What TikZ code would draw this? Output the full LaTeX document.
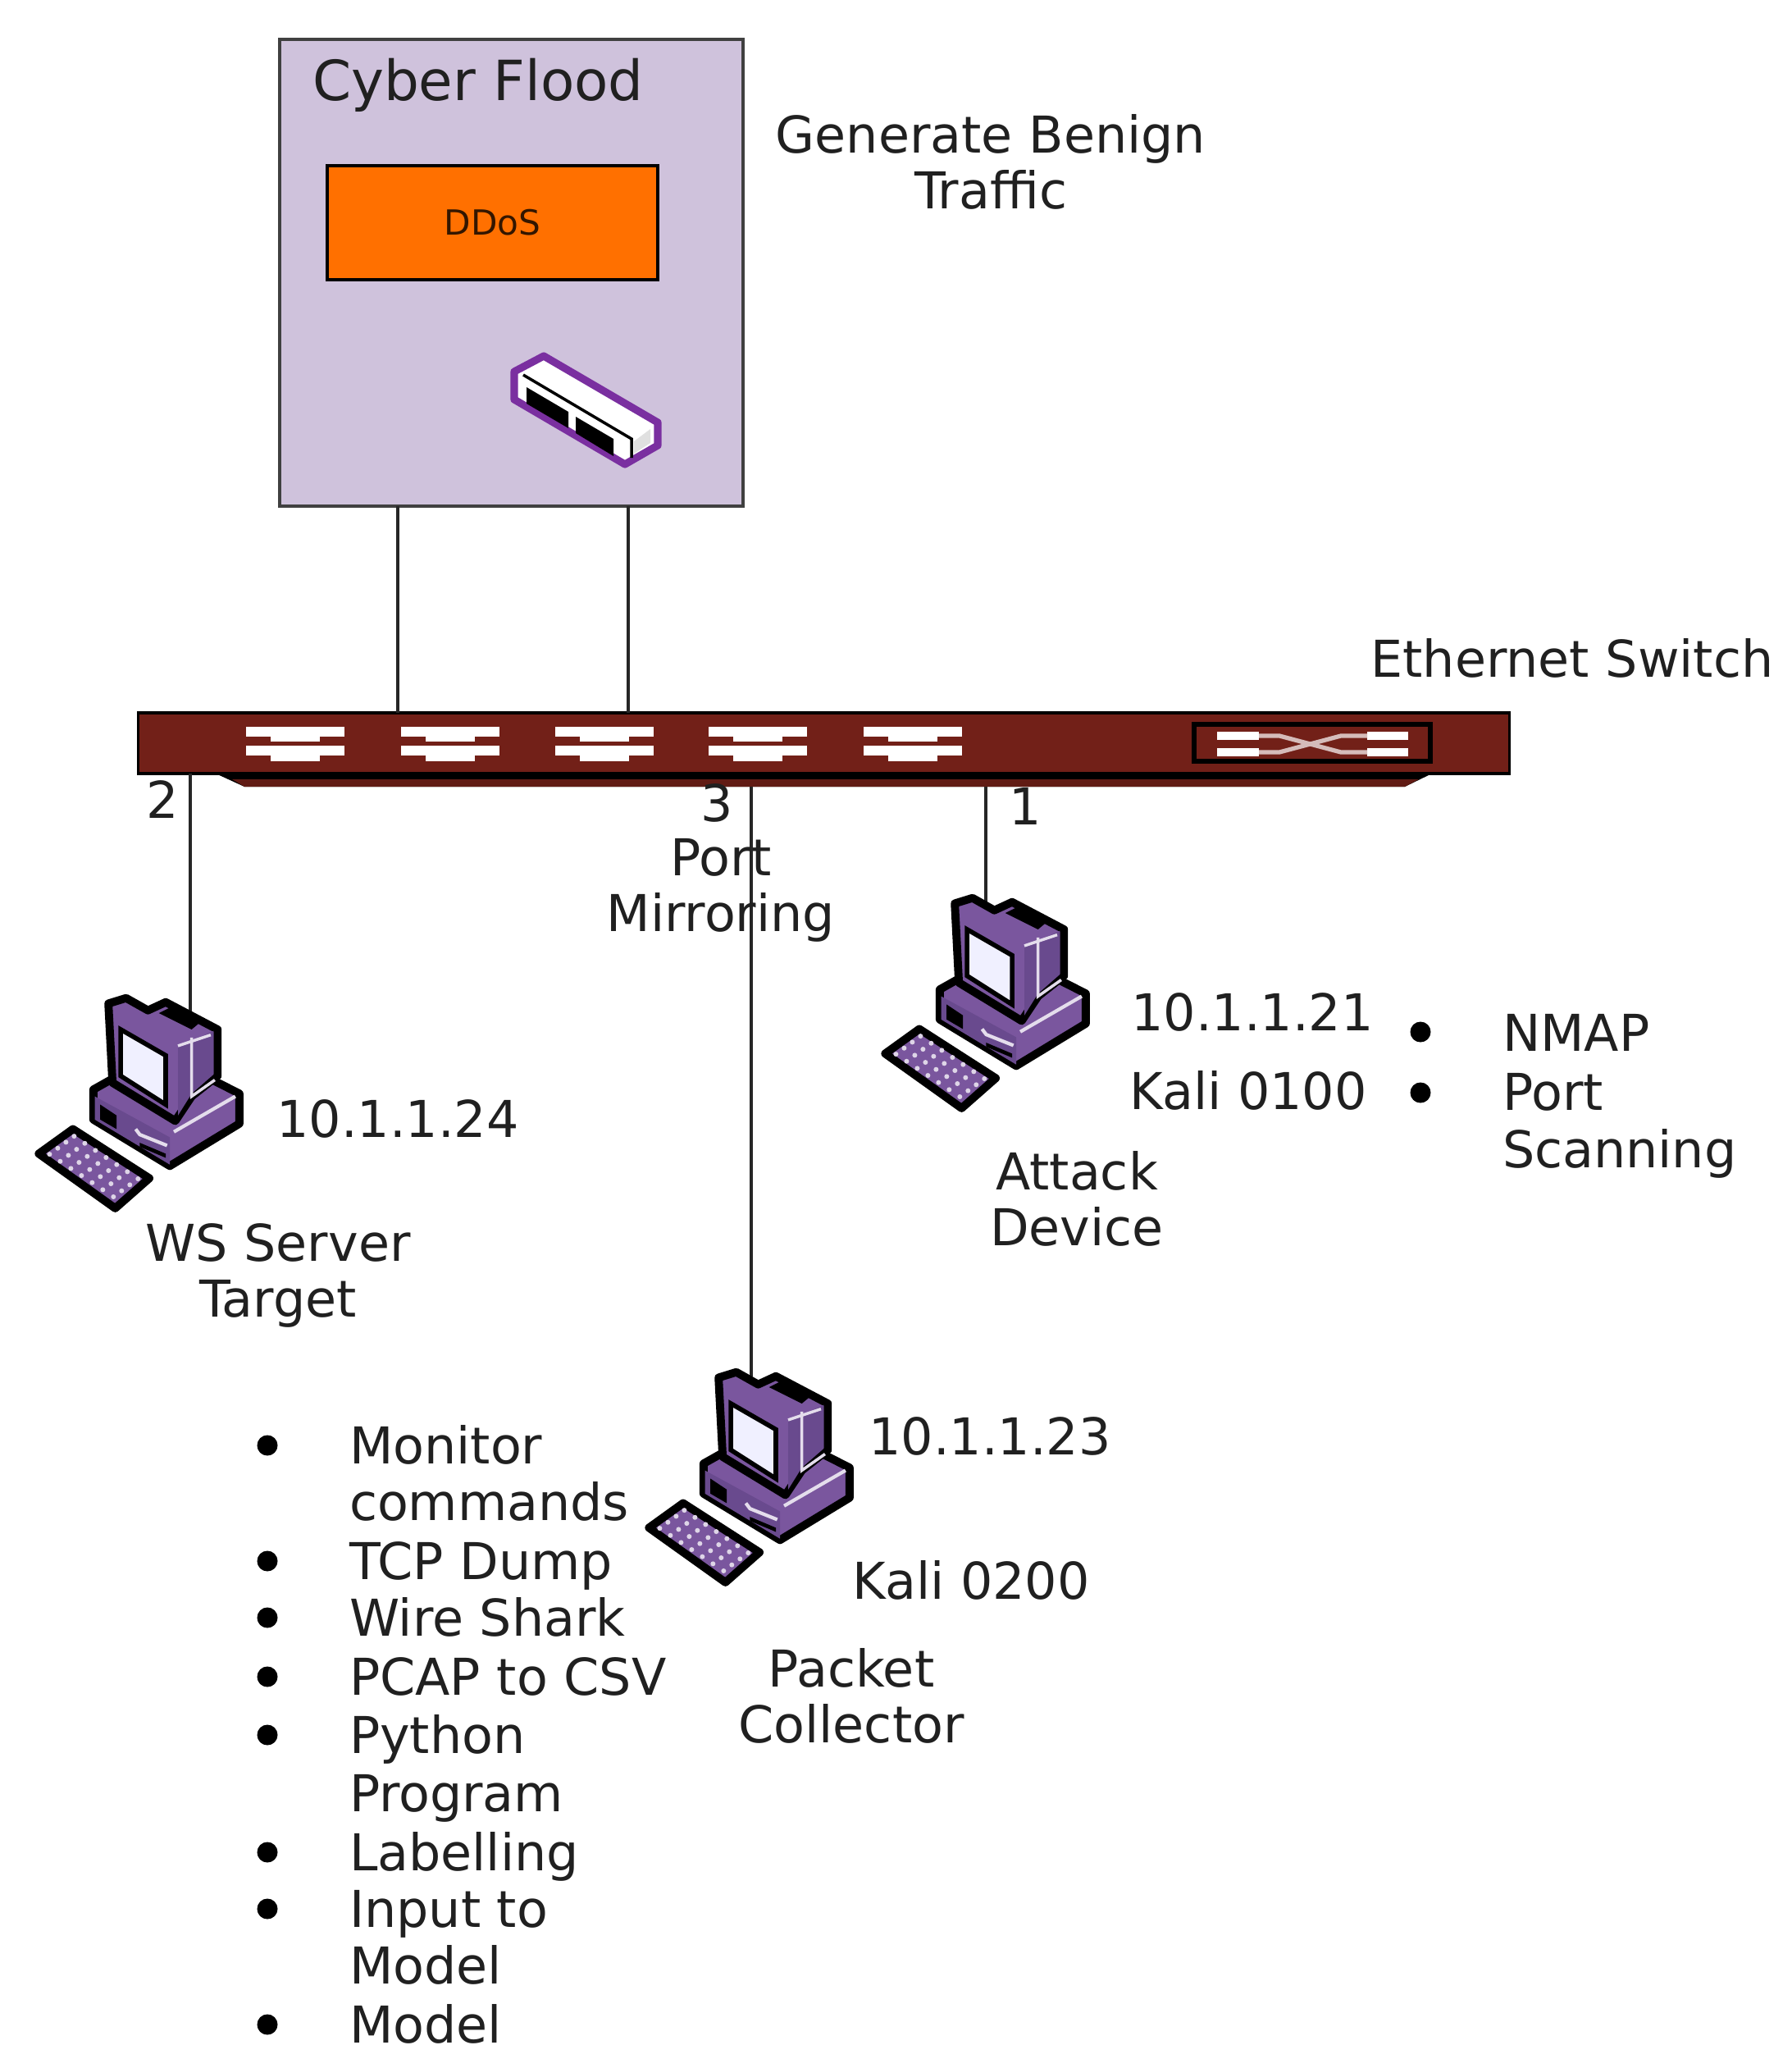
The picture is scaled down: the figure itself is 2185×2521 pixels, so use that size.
\documentclass[tikz,border=0pt]{standalone}
\usepackage{fontspec}
\setmainfont{DejaVu Sans}
\usepackage{tikz}
\usetikzlibrary{positioning,calc}

\definecolor{floodfill}{HTML}{CFC2DC}
\definecolor{floodline}{HTML}{404040}
\definecolor{ddosfill}{HTML}{FF7000}
\definecolor{switchred}{HTML}{722018}
\definecolor{hostpurple}{HTML}{7A569E}
\definecolor{hostdark}{HTML}{694A8E}
\definecolor{iconpurple}{HTML}{7A2FA0}
\definecolor{textgray}{HTML}{202020}

\tikzset{
	lbl/.style={font=\fontsize{17.6}{19.3}\selectfont, text=textgray, inner sep=0, outer sep=0, align=center},
	lstxt/.style={lbl, anchor=base west},
	dot/.style={circle, fill=black, inner sep=0, minimum size=0.25cm},
	link/.style={draw=black!85, line width=1.2pt},
	hostedge/.style={draw=black, line width=2.8pt, line join=round},
	pics/computer/.style={code={
		\begin{scope}[x=0.00333cm, y=-0.00333cm, shift={(-635,-165)}]
			\filldraw[hostedge, fill=hostpurple] (80,680) -- (205,590) -- (485,770) -- (360,880) -- cycle;
			\foreach \i in {0,...,6} \foreach \j in {0,...,3}
				\fill[white!75!hostpurple] ({85+(\i+.5)*39+(\j+.5)*30},{680+(\i+.5)*26-(\j+.5)*22}) circle[radius=0.3mm];
			\filldraw[hostedge, fill=hostpurple] (280,445) -- (520,310) -- (815,460) -- (815,570) -- (560,725) -- (280,555) -- cycle;
			\fill[hostdark] (285,470) -- (560,620) -- (560,720) -- (285,555) -- cycle;
			\draw[white!80!hostpurple, line width=1.2pt] (575,600) -- (800,470);
			\fill[black] (305,500) -- (365,540) -- (365,590) -- (305,555) -- cycle;
			\draw[white!80!hostpurple, line width=1.2pt] (435,590) -- (450,610) -- (550,650);
			\fill[black] (450,640) -- (545,680) -- (545,695) -- (450,655) -- cycle;
			\filldraw[hostedge, fill=hostpurple] (335,130) -- (400,110) -- (480,155) -- (545,125) -- (735,225) -- (735,395) -- (640,470) -- (580,560) -- (350,420) -- cycle;
			\fill[hostdark] (590,290) -- (720,230) -- (720,390) -- (640,460) -- (590,540) -- cycle;
			\draw[white!80!hostpurple, line width=1pt] (640,255) -- (640,470) -- (725,410);
			\draw[white!80!hostpurple, line width=1pt] (590,285) -- (710,245);
			\fill[black] (520,165) -- (560,145) -- (670,200) -- (640,225) -- cycle;
			\filldraw[draw=black, line width=1.6pt, fill=blue!6!white] (380,225) -- (545,320) -- (545,500) -- (380,395) -- cycle;
		\end{scope}
	}}
}

\begin{document}
\begin{tikzpicture}[x=0.01cm, y=-0.01cm]

	\useasboundingbox (0,0) rectangle (2185,2521);

	\node (flood) at (623.5,332.5) [draw=floodline, fill=floodfill, line width=1pt, minimum width=5.65cm, minimum height=5.69cm, inner sep=0, outer sep=0] {};
	\node (floodtitle) at (381,122) [lbl, anchor=base west, font=\fontsize{19.2}{20}\selectfont] {Cyber Flood};
	\node (ddos) at (600.5,271.5) [draw=black, fill=ddosfill, line width=1pt, minimum width=4.03cm, minimum height=1.39cm, inner sep=0, outer sep=0, text=black!80!ddosfill, font=\fontsize{12}{13}\selectfont] {DDoS};
	\node (benign) at (1208,197) [lbl] {Generate Benign\\Traffic};

	\filldraw[draw=iconpurple, line width=2.6pt, line join=round, fill=white] (663,434) -- (802,515) -- (802,543) -- (762,566) -- (627,487) -- (627,453) -- cycle;
	\fill[black!12] (773,538) -- (793,523) -- (793,540) -- (773,553) -- cycle;
	\draw[black, line width=1pt] (638,457) -- (770,535) -- (770,558);
	\fill[black] (642,472) -- (693,502) -- (693,522) -- (642,492) -- cycle;
	\fill[black] (702,508) -- (748,535) -- (748,556) -- (702,528) -- cycle;

	\coordinate (floodportA) at (485,617);
	\coordinate (floodportB) at (766,617);

	\fill[black] (263,943) -- (298,959) -- (1713,959) -- (1746,943) -- cycle;
	\fill[switchred!85!black] (283,950) -- (298,959) -- (1713,959) -- (1730,950) -- cycle;
	\coordinate (liprail) at (1000,959);

	\node (switch) at (1004.5,906) [draw=black, fill=switchred, line width=1pt, minimum width=16.71cm, minimum height=0.74cm, inner sep=0, outer sep=0] {};
	\node (switchlabel) at (1917,802) [lbl] {Ethernet Switch};

	\foreach \x in {360,549,737,924,1113} {
		\fill[white] ({\x-60},886) rectangle ({\x+60},898);
		\fill[white] ({\x-30},898) rectangle ({\x+30},904);
		\fill[white] ({\x-60},909) rectangle ({\x+60},921);
		\fill[white] ({\x-30},921) rectangle ({\x+30},928);
	}

	\draw[black, line width=1.5pt] (1456,883) rectangle (1744,928);
	\draw[white, line width=2.6pt] (1484,897) -- (1535,897);
	\draw[white, line width=2.6pt] (1484,917) -- (1535,917);
	\draw[white, line width=2.6pt] (1667,897) -- (1717,897);
	\draw[white, line width=2.6pt] (1667,917) -- (1717,917);
	\draw[white!70!switchred, line width=1.5pt] (1535,897) -- (1560,897) -- (1635,917) -- (1667,917);
	\draw[white!70!switchred, line width=1.5pt] (1535,917) -- (1560,917) -- (1635,897) -- (1667,897);

	\draw[link] (floodportA) -- (floodportA |- switch.north);
	\draw[link] (floodportB) -- (floodportB |- switch.north);

	\coordinate (wshost) at (232,1235);
	\coordinate (wstop) at (232,1235);
	\coordinate (attackhost) at (1264,1113);
	\coordinate (attacktop) at (1202,1100);
	\coordinate (collectorhost) at (976,1691);
	\coordinate (collectortop) at (916,1678);

	\draw[link] (wstop |- switch.south) -- (wstop);
	\draw[link] (attacktop |- liprail) -- (attacktop);
	\draw[link] (collectortop |- liprail) -- (collectortop);

	\pic at (wshost) {computer};
	\pic at (attackhost) {computer};
	\pic at (collectorhost) {computer};

	\node (porttwo) at (198,975) [lbl] {2};
	\node (portthree) at (874,979) [lbl] {3};
	\node (portone) at (1250,983) [lbl] {1};
	\node (mirror) at (879,1085) [lbl] {Port\\Mirroring};

	\node (wsip) at (485,1364) [lbl] {10.1.1.24};
	\node (wsname) at (339,1555) [lbl] {WS Server\\Target};
	\node (attackip) at (1527,1234) [lbl] {10.1.1.21};
	\node (attackkali) at (1522,1329) [lbl] {Kali 0100};
	\node (attackname) at (1313,1461) [lbl] {Attack\\Device};
	\node (collectorip) at (1207,1751) [lbl] {10.1.1.23};
	\node (collectorkali) at (1184,1926) [lbl] {Kali 0200};
	\node (collectorname) at (1038,2067) [lbl] {Packet\\Collector};

	\node (nmapdot) at (1732,1258) [dot] {};
	\node (portdot) at (1732,1332) [dot] {};
	\node (nmap) at (1832,1281) [lstxt] {NMAP};
	\node (portscan) at (1832,1353) [lstxt] {Port};
	\node (scanning) at (1832,1423) [lstxt] {Scanning};

	\foreach \i/\y/\txt in {a/1762/Monitor,b/1831/commands,c/1903/TCP Dump,d/1972/Wire Shark,e/2044/PCAP to CSV,f/2115/Python,g/2186/Program,h/2258/Labelling,i/2327/Input to,j/2396/Model,k/2468/Model}
		\node (tool\i) at (426,\y+22) [lstxt] {\txt};

	\foreach \i/\y in {a/1762,c/1903,d/1972,e/2044,f/2115,h/2258,i/2327,k/2468}
		\node (tooldot\i) at (326,\y) [dot] {};

\end{tikzpicture}
\end{document}
